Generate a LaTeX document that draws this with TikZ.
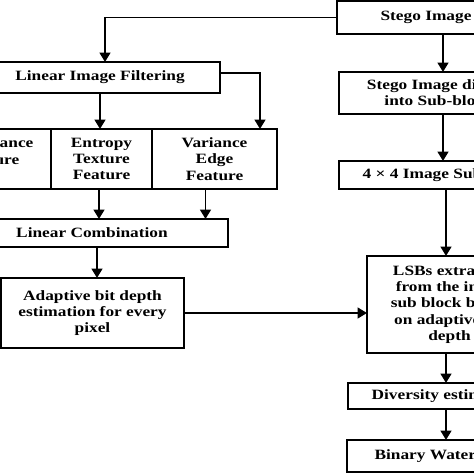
\documentclass[tikz,border=0pt]{standalone}
\usepackage{fontspec}
\setmainfont{Liberation Serif}[FakeStretch=1.22]
\usetikzlibrary{arrows.meta}
\begin{document}
\begin{tikzpicture}[x=1pt,y=-1pt,
  box/.style={draw=black,line width=1.6pt,inner sep=0pt,outer sep=0pt,align=center,
    font=\bfseries\fontsize{14.2}{16.2}\selectfont,text=black},
  arr/.style={line width=1.6pt,-{Triangle[length=9.5pt,width=11pt]}},
  ln/.style={line width=1.6pt}]
\useasboundingbox (0,0) rectangle (474,474);
\fill[white] (0,0) rectangle (474,474);
\clip (0,0) rectangle (474,474);
% right column
\node[box,minimum width=178pt,minimum height=33pt] (stego) at (426,17.5) {Stego Image};
\node[box,minimum width=206pt,minimum height=42pt] (div) at (442,93) {Stego Image divided\\into Sub-blocks};
\node[box,minimum width=220pt,minimum height=28pt] (sub) at (449,175) {4 × 4 Image Sub-blocks};
\node[box,minimum width=165pt,minimum height=97pt] (lsb) at (449.5,304.5) {LSBs extracted\\from the input\\sub block based\\on adaptive bit\\depth};
\node[box,minimum width=196pt,minimum height=26pt] (dive) at (446,396) {Diversity estimation};
\node[box,minimum width=197pt,minimum height=32pt] (bw) at (445.5,456) {Binary Watermark};
% left column
\node[box,minimum width=240pt,minimum height=31pt] (lif) at (100,77.5) {Linear Image Filtering};
\node[box,minimum width=101pt,minimum height=60pt,text depth=16pt] (f1) at (0.5,159) {Variance\\Feature\hspace*{20pt}};
\node[box,minimum width=101pt,minimum height=60pt] (f2) at (101.5,159) {Entropy\\Texture\\Feature};
\node[box,minimum width=125pt,minimum height=60pt] (f3) at (214.5,159) {Variance\\Edge\\Feature};
\node[box,minimum width=272pt,minimum height=28pt] (lc) at (92,233) {Linear Combination};
\node[box,minimum width=183pt,minimum height=70pt] (abd) at (92.5,313) {Adaptive bit depth\\estimation for every\\pixel};
% helper coordinates
\coordinate (c1) at ([xshift=5pt]lif.north);
\coordinate (c2) at ([yshift=4.5pt]lif.east);
\coordinate (c3) at ([xshift=45.5pt]f3.north);
\coordinate (c4) at ([xshift=-2.5pt]f2.south);
\coordinate (c5) at ([xshift=-9pt]f3.south);
\coordinate (c6) at ([xshift=5pt]lc.south);
\coordinate (c7) at ([xshift=17pt]stego.south);
\coordinate (c8) at ([xshift=1pt]div.south);
\coordinate (c9) at ([xshift=-3pt]sub.south);
\coordinate (c10) at ([xshift=-3.5pt]lsb.south);
% connectors
\draw[arr] (stego.west) -| (c1);
\draw[arr] (c2) -| (c3);
\draw[arr] (lif.south) -- (lif.south |- f2.north);
\draw[arr] (c4) -- (c4 |- lc.north);
\draw[arr] (c5) -- (c5 |- lc.north);
\draw[arr] (c6) -- (c6 |- abd.north);
\draw[arr] (abd.east) -- (abd.east -| lsb.west);
\draw[arr] (c7) -- (c7 |- div.north);
\draw[arr] (c8) -- (c8 |- sub.north);
\draw[arr] (c9) -- (c9 |- lsb.north);
\draw[arr] (c10) -- (c10 |- dive.north);
\draw[arr] (dive.south) -- (dive.south |- bw.north);
\end{tikzpicture}
\end{document}
